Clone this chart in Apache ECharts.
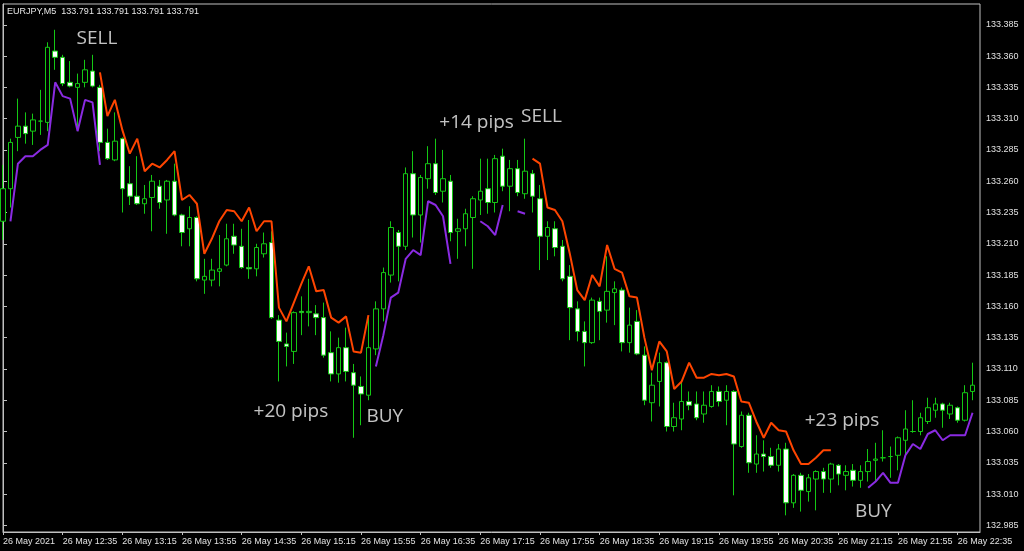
<!DOCTYPE html>
<html>
<head>
<meta charset="utf-8">
<script src="https://cdn.jsdelivr.net/npm/echarts@6/dist/echarts.min.js"></script>
<style>
  html, body { margin: 0; padding: 0; background: #000; }
  #chart { width: 1024px; height: 551px; }
</style>
</head>
<body>
<div id="chart"></div>
<script>
// ---------- DATA ----------
const N = null;
const chartTitle = 'EURJPY,M5  133.791 133.791 133.791 133.791';

// bar times (M5), first bar 26 May 11:55, one spare slot at the end
const startMinutes = 11 * 60 + 55;
const barCount = 132;

const xTickLabels = ['26 May 2021', '26 May 12:35', '26 May 13:15', '26 May 13:55', '26 May 14:35',
  '26 May 15:15', '26 May 15:55', '26 May 16:35', '26 May 17:15', '26 May 17:55', '26 May 18:35',
  '26 May 19:15', '26 May 19:55', '26 May 20:35', '26 May 21:15', '26 May 21:55', '26 May 22:35'];

const yTicks = [132.985, 133.010, 133.035, 133.060, 133.085, 133.110, 133.135, 133.160, 133.185,
  133.210, 133.235, 133.260, 133.285, 133.310, 133.335, 133.360, 133.385];

const openPrices = [
  133.228, 133.254, 133.295, 133.304, 133.300, 133.308, 133.307, 133.364, 133.359, 133.339,
  133.335, 133.339, 133.348, 133.335, 133.291, 133.277, 133.294, 133.258, 133.248, 133.242,
  133.247, 133.256, 133.245, 133.260, 133.233, 133.222, 133.231, 133.181, 133.181, 133.188,
  133.193, 133.216, 133.208, 133.191, 133.190, 133.202, 133.211, 133.149, 133.130, 133.124,
  133.156, 133.155, 133.154, 133.151, 133.123, 133.106, 133.127, 133.107, 133.096, 133.089,
  133.126, 133.158, 133.185, 133.219, 133.208, 133.266, 133.233, 133.262, 133.274, 133.252,
  133.260, 133.220, 133.222, 133.231, 133.245, 133.254, 133.243, 133.280, 133.256, 133.270,
  133.250, 133.266, 133.246, 133.216, 133.222, 133.208, 133.184, 133.158, 133.140, 133.131,
  133.164, 133.157, 133.171, 133.173, 133.131, 133.148, 133.121, 133.083, 133.100, 133.115,
  133.064, 133.070, 133.084, 133.082, 133.074, 133.080, 133.092, 133.085, 133.092, 133.048,
  133.073, 133.034, 133.042, 133.040, 133.033, 133.046, 133.003, 133.025, 133.012, 133.022,
  133.028, 133.022, 133.033, 133.025, 133.029, 133.021, 133.028, 133.037, 133.039, 133.040,
  133.041, 133.053, 133.060, 133.060, 133.068, 133.077, 133.082, 133.074, 133.079, 133.069,
  133.092];

const closePrices = [
  133.254, 133.291, 133.304, 133.298, 133.309, 133.308, 133.367, 133.359, 133.338, 133.336,
  133.338, 133.349, 133.336, 133.291, 133.278, 133.292, 133.254, 133.248, 133.242, 133.246,
  133.260, 133.243, 133.260, 133.233, 133.219, 133.231, 133.182, 133.184, 133.189, 133.190,
  133.214, 133.209, 133.191, 133.190, 133.207, 133.210, 133.151, 133.132, 133.128, 133.155,
  133.155, 133.156, 133.151, 133.121, 133.106, 133.127, 133.108, 133.097, 133.090, 133.127,
  133.158, 133.187, 133.223, 133.208, 133.266, 133.233, 133.263, 133.274, 133.251, 133.262,
  133.219, 133.222, 133.234, 133.246, 133.252, 133.243, 133.278, 133.256, 133.270, 133.251,
  133.268, 133.248, 133.216, 133.223, 133.207, 133.182, 133.159, 133.140, 133.131, 133.165,
  133.156, 133.172, 133.174, 133.131, 133.145, 133.122, 133.085, 133.097, 133.115, 133.064,
  133.071, 133.084, 133.081, 133.071, 133.081, 133.092, 133.084, 133.092, 133.050, 133.073,
  133.035, 133.042, 133.040, 133.033, 133.046, 133.003, 133.025, 133.013, 133.023, 133.028,
  133.022, 133.034, 133.026, 133.028, 133.021, 133.028, 133.036, 133.038, 133.039, 133.040,
  133.055, 133.062, 133.060, 133.071, 133.079, 133.082, 133.077, 133.081, 133.069, 133.091,
  133.097];

const highPrices = [
  133.273, 133.294, 133.326, 133.315, 133.314, 133.333, 133.371, 133.381, 133.361, 133.356,
  133.346, 133.357, 133.361, 133.337, 133.302, 133.315, 133.295, 133.272, 133.280, 133.257,
  133.265, 133.261, 133.261, 133.274, 133.234, 133.240, 133.232, 133.198, 133.198, 133.217,
  133.226, 133.226, 133.222, 133.229, 133.210, 133.219, 133.220, 133.153, 133.139, 133.156,
  133.168, 133.182, 133.161, 133.163, 133.140, 133.135, 133.143, 133.114, 133.104, 133.151,
  133.164, 133.191, 133.228, 133.221, 133.271, 133.284, 133.265, 133.288, 133.294, 133.285,
  133.265, 133.230, 133.238, 133.248, 133.278, 133.278, 133.281, 133.286, 133.277, 133.277,
  133.294, 133.269, 133.257, 133.228, 133.228, 133.213, 133.193, 133.164, 133.148, 133.167,
  133.167, 133.200, 133.180, 133.175, 133.159, 133.157, 133.128, 133.107, 133.123, 133.116,
  133.083, 133.101, 133.092, 133.092, 133.092, 133.097, 133.096, 133.097, 133.093, 133.076,
  133.075, 133.057, 133.053, 133.047, 133.050, 133.051, 133.026, 133.027, 133.026, 133.029,
  133.031, 133.035, 133.034, 133.033, 133.034, 133.033, 133.046, 133.051, 133.061, 133.048,
  133.056, 133.077, 133.085, 133.075, 133.087, 133.087, 133.083, 133.083, 133.080, 133.097,
  133.115];

const lowPrices = [
  133.213, 133.239, 133.284, 133.290, 133.289, 133.297, 133.300, 133.349, 133.336, 133.335,
  133.300, 133.335, 133.335, 133.284, 133.277, 133.276, 133.235, 133.241, 133.241, 133.234,
  133.220, 133.238, 133.218, 133.232, 133.208, 133.208, 133.180, 133.170, 133.176, 133.176,
  133.192, 133.202, 133.190, 133.182, 133.184, 133.199, 133.150, 133.100, 133.112, 133.114,
  133.137, 133.144, 133.137, 133.119, 133.100, 133.099, 133.100, 133.055, 133.065, 133.085,
  133.121, 133.148, 133.179, 133.180, 133.205, 133.215, 133.211, 133.254, 133.249, 133.243,
  133.212, 133.198, 133.208, 133.190, 133.233, 133.234, 133.235, 133.252, 133.236, 133.248,
  133.246, 133.235, 133.189, 133.197, 133.200, 133.180, 133.133, 133.132, 133.112, 133.130,
  133.133, 133.147, 133.145, 133.124, 133.123, 133.121, 133.081, 133.068, 133.080, 133.060,
  133.060, 133.061, 133.077, 133.069, 133.067, 133.079, 133.080, 133.065, 133.009, 133.047,
  133.027, 133.027, 133.028, 133.031, 133.028, 132.993, 132.999, 132.996, 133.004, 132.997,
  133.011, 133.011, 133.017, 133.013, 133.016, 133.015, 133.020, 133.020, 133.036, 133.023,
  133.029, 133.041, 133.059, 133.057, 133.066, 133.071, 133.063, 133.070, 133.067, 133.068,
  133.085];

const sellLine = [
  N, N, N, N, N, N, N, N, N, N,
  N, N, N, 133.347, 133.312, 133.325, 133.301, 133.282, 133.294, 133.268,
  133.274, 133.271, 133.277, 133.284, 133.245, 133.249, 133.242, 133.202, 133.214, 133.228,
  133.237, 133.236, 133.228, 133.239, 133.220, 133.228, 133.228, 133.159, 133.148, 133.163,
  133.178, 133.192, 133.172, 133.173, 133.151, 133.147, 133.152, 133.124, 133.123, 133.153,
  N, N, N, N, N, N, N, N, N, N,
  N, N, N, N, N, N, N, N, N, N,
  N, 133.278, 133.274, 133.239, 133.237, 133.228, 133.202, 133.173, 133.165, 133.185,
  133.176, 133.209, 133.190, 133.187, 133.168, 133.167, 133.135, 133.109, 133.132, 133.124,
  133.094, 133.100, 133.115, 133.103, 133.103, 133.106, 133.105, 133.106, 133.104, 133.084,
  133.083, 133.068, 133.055, 133.067, 133.061, 133.060, 133.045, 133.034, 133.034, 133.039,
  133.045, 133.045, N, N, N, N, N, N, N, N,
  N, N, N, N, N, N, N, N, N, N,
  N];

const buyLine = [
  N, 133.228, 133.274, 133.280, 133.280, 133.285, 133.289, 133.339, 133.328, 133.326,
  133.300, 133.325, 133.323, 133.273, N, N, N, N, N, N,
  N, N, N, N, N, N, N, N, N, N,
  N, N, N, N, N, N, N, N, N, N,
  N, N, N, N, N, N, N, N, N, N,
  133.112, 133.137, 133.167, 133.171, 133.198, 133.205, 133.201, 133.244, 133.241, 133.232,
  133.194, N, N, N, 133.228, 133.224, 133.217, 133.241, N, 133.236,
  133.234, N, N, N, N, N, N, N, N, N,
  N, N, N, N, N, N, N, N, N, N,
  N, N, N, N, N, N, N, N, N, N,
  N, N, N, N, N, N, N, N, N, N,
  N, N, N, N, N, N, 133.015, 133.020, 133.027, 133.019,
  133.019, 133.041, 133.050, 133.046, 133.058, 133.061, 133.053, 133.057, 133.057, 133.057,
  133.075];

// text notes: bar position (fractional bar index) and price level
const noteTexts  = ['SELL', '+14 pips', 'SELL', '+20 pips', 'BUY', '+23 pips', 'BUY'];
const noteBars   = [12.6, 63.5, 72.2, 38.6, 51.2, 112.5, 116.7];
const notePrices = [133.374, 133.307, 133.312, 133.076, 133.072, 133.069, 132.996];

// ---------- BUILD ----------
const categories = [];
for (let i = 0; i < barCount; i++) {
  const m = startMinutes + i * 5;
  const hh = String(Math.floor(m / 60)).padStart(2, '0');
  const mm = String(m % 60).padStart(2, '0');
  categories.push('26 May ' + hh + ':' + mm);
}
const candleData = openPrices.map((o, i) => [o, closePrices[i], lowPrices[i], highPrices[i]]);
const noteData = noteTexts.map((t, i) => ({ name: t, value: [noteBars[i], notePrices[i]] }));

const GREEN = '#14c814';
const FRAME = '#c0c0c0';
const AXIS_TEXT = '#e0e0e0';

const chart = echarts.init(document.getElementById('chart'), null, { renderer: 'canvas' });
chart.setOption({
  backgroundColor: '#000000',
  animation: false,
  title: {
    text: chartTitle, left: 7, top: 7, padding: 0,
    textStyle: { color: '#e6e6e6', fontSize: 9, fontWeight: 'normal', fontFamily: 'Liberation Sans' }
  },
  grid: {
    left: 3, right: 44, top: 4, bottom: 19,
    show: true, borderColor: FRAME, borderWidth: 1, backgroundColor: '#000000'
  },
  xAxis: [{
    type: 'category',
    data: categories,
    boundaryGap: false,
    axisLine: { show: true, lineStyle: { color: FRAME, width: 1 } },
    axisTick: { show: true, interval: 7, length: 3, lineStyle: { color: FRAME } },
    axisLabel: {
      show: true, interval: 7, align: 'left', margin: 5,
      color: AXIS_TEXT, fontSize: 9, fontFamily: 'Liberation Sans',
      formatter: (v, idx) => (xTickLabels[idx / 8] !== undefined ? xTickLabels[idx / 8] : '')
    },
    splitLine: { show: false }
  }, {
    type: 'value', min: 0, max: barCount - 1, show: false
  }],
  yAxis: {
    type: 'value',
    position: 'right',
    min: 132.9797,
    max: 133.4016,
    axisLine: { show: true, lineStyle: { color: FRAME, width: 1 } },
    axisTick: { show: true, length: 4, customValues: yTicks, lineStyle: { color: FRAME } },
    axisLabel: {
      show: true, customValues: yTicks, margin: 6,
      color: AXIS_TEXT, fontSize: 9, fontFamily: 'Liberation Sans',
      formatter: v => v.toFixed(3)
    },
    splitLine: { show: false }
  },
  series: [{
    type: 'candlestick',
    data: candleData,
    barWidth: 5,
    itemStyle: {
      color: '#000000', color0: '#ffffff',
      borderColor: GREEN, borderColor0: GREEN, borderWidth: 1
    },
    z: 2
  }, {
    type: 'line', data: sellLine, showSymbol: false, connectNulls: false,
    lineStyle: { color: '#ff4500', width: 2 }, itemStyle: { color: '#ff4500' }, z: 3
  }, {
    type: 'line', data: buyLine, showSymbol: false, connectNulls: false,
    lineStyle: { color: '#8a2be2', width: 2 }, itemStyle: { color: '#8a2be2' }, z: 3
  }, {
    type: 'scatter', xAxisIndex: 1, data: noteData,
    symbolSize: 1, itemStyle: { color: 'rgba(0,0,0,0)' },
    label: {
      show: true, position: 'inside', formatter: '{b}',
      color: '#f4f4f4', fontSize: 19, fontFamily: 'Open Sans'
    },
    z: 5
  }]
});
</script>
</body>
</html>
